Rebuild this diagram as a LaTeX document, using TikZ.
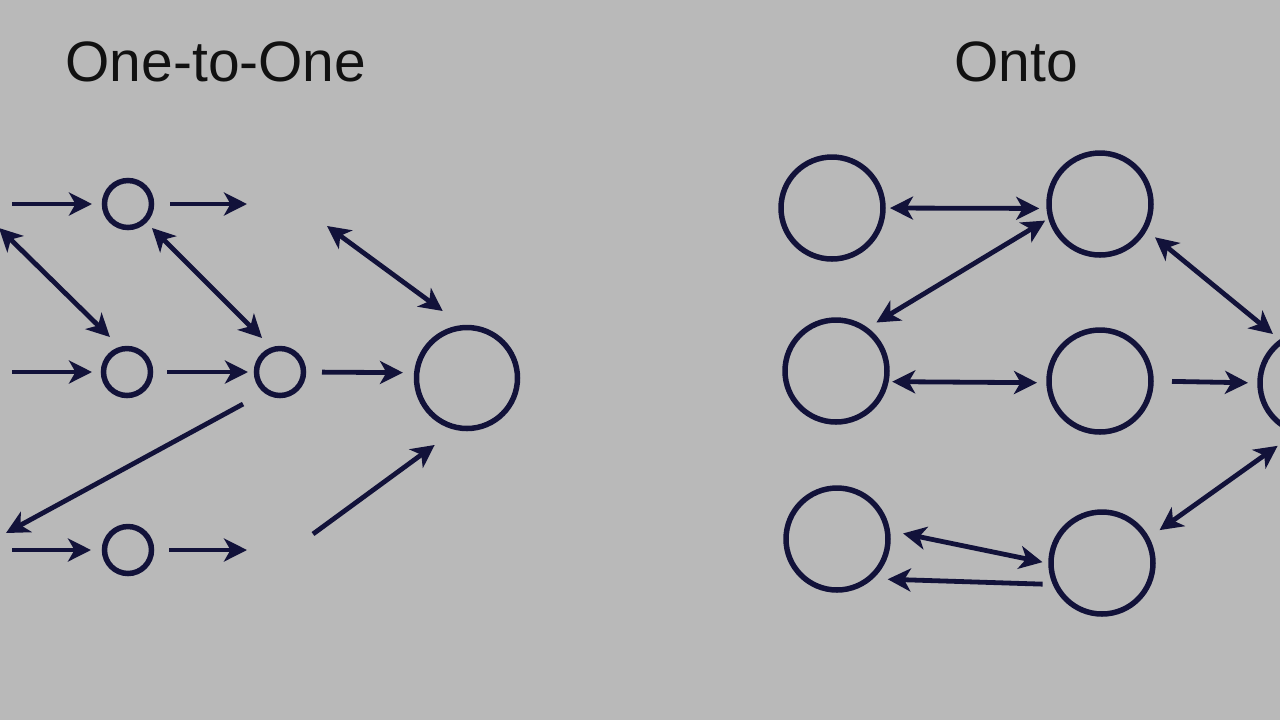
\documentclass[tikz,border=0pt]{standalone}
\usepackage{fontspec}
\setmainfont{Liberation Sans}
\usetikzlibrary{arrows.meta}
\definecolor{bg}{RGB}{185,185,185}
\definecolor{ink}{RGB}{18,18,58}
\definecolor{titleink}{RGB}{17,17,17}
\tikzset{ah/.tip={Stealth[length=2.3mm,width=2.3mm,inset=0.65mm]}}
\begin{document}
\begin{tikzpicture}[x=0.1mm,y=-0.1mm,
  small/.style={circle,draw=ink,line width=0.55mm,minimum size=4.7mm,inner sep=0pt,outer sep=0pt},
  big/.style={circle,draw=ink,line width=0.55mm,minimum size=10.1mm,inner sep=0pt,outer sep=0pt},
  rc/.style={circle,draw=ink,line width=0.55mm,minimum size=10.2mm,inner sep=0pt,outer sep=0pt},
  conn/.style={draw=ink,line width=0.48mm,-ah},
  both/.style={draw=ink,line width=0.48mm,ah-ah},
  title/.style={font=\fontsize{16.2pt}{19pt}\selectfont,text=titleink,inner sep=0pt}
]
\useasboundingbox (0,0) rectangle (1280,720);
\fill[bg] (0,0) rectangle (1280,720);
\clip (0,0) rectangle (1280,720);

% titles
\node[title] (t1) at (216,62) {One-to-One};
\node[title] (t2) at (1016,62) {Onto};

% left: one-to-one
\node[small] (A1) at (128,204) {};
\node[small] (A2) at (127,372) {};
\node[small] (A3) at (280,372) {};
\node[small] (A4) at (128,550) {};
\node[big]   (B)  at (467,378) {};

\coordinate (p1) at (12,204);
\coordinate (p2) at (247,204);
\coordinate (p3) at (-1,228);
\coordinate (p4) at (12,372);
\coordinate (p5) at (327,226);
\coordinate (p6) at (6,533);
\coordinate (p7) at (12,550);
\coordinate (p8) at (247,550);
\coordinate (p9) at (313,534);

\draw[conn,shorten >=1.25mm] (p1) -- (A1.180);
\draw[conn,shorten <=1.85mm] (A1.0) -- (p2);
\draw[both,shorten >=1.71mm] (p3) -- (A2.102);
\draw[both,shorten <=1.04mm,shorten >=1.62mm] (A1.-45) -- (A3.106);
\draw[conn,shorten >=1.15mm] (p4) -- (A2.180);
\draw[conn,shorten <=1.65mm,shorten >=0.85mm] (A2.0) -- (A3.180);
\draw[conn,shorten <=1.85mm,shorten >=1.38mm] (A3.0) -- (B.174);
\draw[both,shorten >=2.8mm] (p5) -- (B.92);
\draw[conn,shorten <=2.67mm] (A3.235) -- (p6);
\draw[conn,shorten >=1.35mm] (p7) -- (A4.180);
\draw[conn,shorten <=1.75mm] (A4.0) -- (p8);
\draw[conn,shorten >=2.92mm] (p9) -- (B.260);

% right: onto
\node[rc] (C1) at (832,208) {};
\node[rc] (C2) at (1100,204) {};
\node[rc] (C3) at (836,371) {};
\node[rc] (C4) at (1100,381) {};
\node[rc] (C5) at (1311,383) {};
\node[rc] (C6) at (837,539) {};
\node[rc] (C7) at (1102,563) {};

\draw[both,shorten <=0.7mm,shorten >=1.0mm] (C1.0) -- (C2.185);
\draw[both,shorten <=1.3mm,shorten >=0.65mm] (C3.55) -- (C2.195);
\draw[both,shorten <=1.35mm,shorten >=1.14mm] (C2.-29) -- (C5.125);
\draw[both,shorten <=0.63mm,shorten >=1.2mm] (C3.-12) -- (C4.182);
\draw[conn,shorten <=2.1mm,shorten >=1.2mm] (C4.0) -- (C5.180);
\draw[both,shorten <=1.54mm,shorten >=2.37mm] (C7.28) -- (C5.254);
\draw[both,shorten <=1.62mm,shorten >=0.87mm] (C6.10) -- (C7.181);
\draw[conn,shorten <=1.32mm,shorten >=1.86mm] (C7.205) -- (C6.-51);
\end{tikzpicture}
\end{document}
